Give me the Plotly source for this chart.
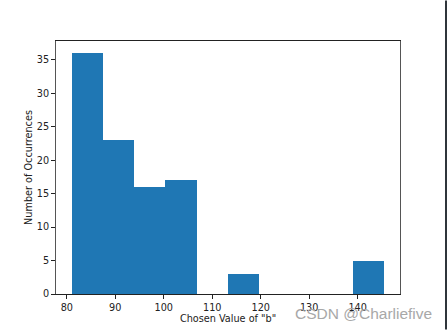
import plotly.graph_objects as go

# Histogram data
bin_edges = [81.0, 87.45, 93.9, 100.35, 106.8, 113.25, 119.7, 126.15, 132.6, 139.05, 145.5]
counts = [36, 23, 16, 17, 0, 3, 0, 0, 0, 5]
x_ticks = [80, 90, 100, 110, 120, 130, 140]
y_ticks = [0, 5, 10, 15, 20, 25, 30, 35]

centers = [(a + b) / 2 for a, b in zip(bin_edges[:-1], bin_edges[1:])]
widths = [b - a for a, b in zip(bin_edges[:-1], bin_edges[1:])]

fig = go.Figure(go.Bar(
    x=centers, y=counts, width=widths,
    marker=dict(color="#1f77b4", line=dict(width=0)),
    hoverinfo="x+y",
))

span = bin_edges[-1] - bin_edges[0]
font = dict(family="DejaVu Sans", size=9.7, color="#222")

fig.update_layout(
    width=447, height=333,
    margin=dict(l=56, r=47, t=41, b=36),
    paper_bgcolor="white", plot_bgcolor="white",
    showlegend=False, bargap=0,
    font=font,
    xaxis=dict(
        range=[bin_edges[0] - 0.05 * span, bin_edges[-1] + 0.05 * span],
        tickvals=x_ticks, ticks="outside", ticklen=4, tickcolor="#222",
        showgrid=False, zeroline=False,
        showline=True, linecolor="#222", linewidth=1, mirror=True,
        title=dict(text='Chosen Value of "b"', font=font, standoff=2),
    ),
    yaxis=dict(
        range=[0, max(counts) * 1.05],
        tickvals=y_ticks, ticks="outside", ticklen=4, tickcolor="#222",
        showgrid=False, zeroline=False,
        showline=True, linecolor="#555", linewidth=1, mirror=True,
        title=dict(text="Number of Occurrences", font=font, standoff=2),
    ),
)

# screenshot border on the right edge
fig.add_shape(type="rect", xref="paper", yref="paper",
              x0=(445 - 56) / 344, x1=(447 - 56) / 344, y0=-36 / 256, y1=(256 + 41) / 256,
              fillcolor="#2f353b", line=dict(width=0), layer="above")

fig.add_annotation(text="CSDN @Charliefive", xref="paper", yref="paper",
                   x=(293 - 56) / 344, y=-(317 - 297) / 256, xanchor="left", yanchor="middle",
                   showarrow=False, font=dict(family="Liberation Sans", size=15.5, color="#a8a8a8"))

fig.write_html("out.html")
